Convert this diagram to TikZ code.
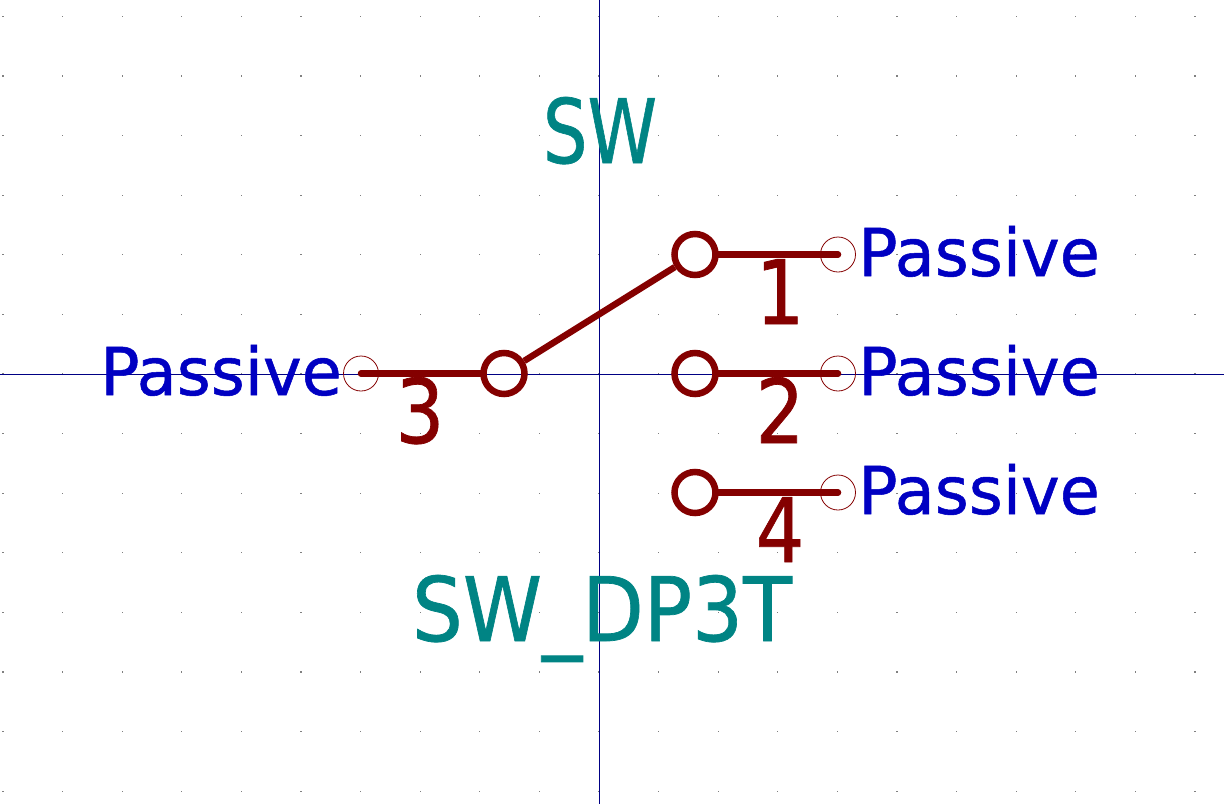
\documentclass[tikz,border=0pt]{standalone}
\usepackage{fontspec}
\setmainfont[FakeBold=0.8]{DejaVu Sans}
\definecolor{pinred}{HTML}{840000}
\definecolor{typeblue}{HTML}{0000C2}
\definecolor{fieldteal}{HTML}{008484}
\definecolor{axisblue}{HTML}{000084}
\tikzset{
    contact/.style={circle,draw=pinred,line width=6.5pt,minimum size=41pt,inner sep=0pt},
    pinend/.style={circle,draw=pinred,line width=0.8pt,minimum size=35pt,inner sep=0pt},
    wire/.style={draw=pinred,line width=6.5pt},
    pintype/.style={text=typeblue,inner sep=0pt,xscale=0.99,transform shape,font=\fontsize{66}{66}\selectfont},
    pinnum/.style={text=pinred,inner sep=0pt,anchor=base,xscale=0.86,transform shape,font=\fontsize{89}{89}\selectfont},
    fieldtext/.style={text=fieldteal,inner sep=0pt,anchor=base,transform shape,font=\fontsize{89}{89}\selectfont}
}
\begin{document}
\begin{tikzpicture}[x=1pt,y=-1pt]
    \useasboundingbox (0,0) rectangle (1224,804);

    % Draw the grid dots
    \foreach \i in {0,...,20} {
        \foreach \j in {0,...,13} {
            \fill[gray] ({3+59.6*\i-0.6},{16.4+59.6*\j-0.6}) rectangle +(1.2,1.2);
        }
    }

    % Draw the axes
    \coordinate (top) at (599,0);
    \coordinate (bottom) at (599,804);
    \coordinate (left) at (0,374);
    \coordinate (right) at (1224,374);
    \draw[axisblue,line width=1pt] (top) -- (bottom);
    \draw[axisblue,line width=1pt] (left) -- (right);

    % Contacts and pin ends
    \node[contact] (c3) at (504,373.5) {};
    \node[contact] (c1) at (695,254.5) {};
    \node[contact] (c2) at (695,373.5) {};
    \node[contact] (c4) at (695,492.5) {};
    \node[pinend] (p3) at (361,373.5) {};
    \node[pinend] (p1) at (838,254.5) {};
    \node[pinend] (p2) at (838,373.5) {};
    \node[pinend] (p4) at (838,492.5) {};

    % Draw the wires
    \draw[wire,line cap=round] (p3.center) -- (c3);
    \draw[wire,line cap=round] (p1.center) -- (c1);
    \draw[wire,line cap=round] (p2.center) -- (c2);
    \draw[wire,line cap=round] (p4.center) -- (c4);
    \draw[wire] (c3) -- (c1);

    % Pin numbers
    \node[pinnum] (n1) at (780,324) {1};
    \node[pinnum] (n2) at (780,443) {2};
    \node[pinnum] (n3) at (420,443) {3};
    \node[pinnum] (n4) at (780,562) {4};

    % Pin types
    \node[pintype,anchor=base east] (t3) at (342,395) {Passive};
    \node[pintype,anchor=base west] (t1) at (858,276) {Passive};
    \node[pintype,anchor=base west] (t2) at (858,395) {Passive};
    \node[pintype,anchor=base west] (t4) at (858,514) {Passive};

    % Field texts
    \node[fieldtext,xscale=0.79] (ref) at (600,163) {SW};
    \node[fieldtext,xscale=0.9] (val) at (602,641) {SW\_DP3T};
\end{tikzpicture}
\end{document}
